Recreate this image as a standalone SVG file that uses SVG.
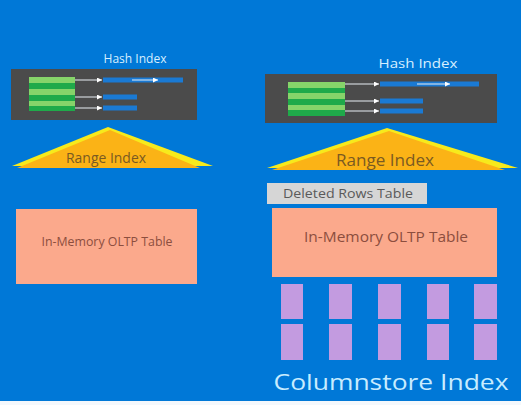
<svg xmlns="http://www.w3.org/2000/svg" width="521" height="405" viewBox="0 0 521 405">
<defs>
<marker id="ah" viewBox="0 0 6 6" refX="6" refY="3" markerWidth="5" markerHeight="5" orient="auto" markerUnits="userSpaceOnUse"><path d="M0,0 L6,3 L0,6 z" fill="#ffffff"/></marker>
<style>
text{font-family:"Open Sans","Noto Sans","Liberation Sans",sans-serif;text-anchor:middle}
.hbox{fill:#4b4b4b}
.lg{fill:#86d46a}
.dg{fill:#1faa4a}
.bar{fill:#1a7ad4}
.arr{stroke:#e8eef4;stroke-width:1;fill:none;marker-end:url(#ah)}
.hash{fill:#d6efff}
.tri1{fill:#f7ea1c}
.tri2{fill:#fbb316}
.range{fill:#7a5a22}
.oltp{fill:#fba98c}
.oltpt{fill:#8c4e3e}
.col{fill:#c39be0}
</style>
</defs>
<rect x="0" y="0" width="521" height="405" fill="#0078d7"/>
<rect x="0" y="401" width="521" height="4" fill="#f4f8fc"/>

<g id="hash-left">
<text class="hash" x="135" y="63" font-size="12" textLength="63" lengthAdjust="spacingAndGlyphs">Hash Index</text>
<rect class="hbox" x="11" y="69" width="186" height="51"/>
<rect class="lg" x="29" y="77" width="46" height="6"/>
<rect class="dg" x="29" y="83" width="46" height="6"/>
<rect class="lg" x="29" y="89" width="46" height="6"/>
<rect class="dg" x="29" y="95" width="46" height="6"/>
<rect class="lg" x="29" y="101" width="46" height="5"/>
<rect class="dg" x="29" y="106" width="46" height="5"/>
<rect class="bar" x="103" y="77.5" width="80" height="5"/>
<rect class="bar" x="103" y="94.5" width="34" height="5"/>
<rect class="bar" x="103" y="105.5" width="34" height="5"/>
</g>

<g id="range-left">
<polygon class="tri1" points="108,127 12,166 213,166"/>
<polygon class="tri2" points="110,130 17,168 200,168"/>
<text class="range" x="106" y="163" font-size="14" textLength="80" lengthAdjust="spacingAndGlyphs">Range Index</text>
</g>

<g id="oltp-left">
<rect class="oltp" x="16" y="209" width="181" height="75"/>
<text class="oltpt" x="107" y="246" font-size="12.5" textLength="131" lengthAdjust="spacingAndGlyphs">In-Memory OLTP Table</text>
</g>

<g id="hash-right">
<text class="hash" x="418" y="68" font-size="13.5" textLength="79" lengthAdjust="spacingAndGlyphs">Hash Index</text>
<rect class="hbox" x="265" y="74" width="232" height="49"/>
<rect class="lg" x="288" y="82" width="57" height="6"/>
<rect class="dg" x="288" y="88" width="57" height="5"/>
<rect class="lg" x="288" y="93" width="57" height="6"/>
<rect class="dg" x="288" y="99" width="57" height="6"/>
<rect class="lg" x="288" y="105" width="57" height="5"/>
<rect class="dg" x="288" y="110" width="57" height="6"/>
<rect class="bar" x="380" y="81.5" width="99" height="5"/>
<rect class="bar" x="380" y="98.5" width="43" height="5"/>
<rect class="bar" x="380" y="108.5" width="43" height="5"/>
</g>

<g id="range-right">
<polygon class="tri1" points="387,128 267,168 518,168"/>
<polygon class="tri2" points="389,131 272,170 505,170"/>
<text class="range" x="385" y="166" font-size="16" textLength="98" lengthAdjust="spacingAndGlyphs">Range Index</text>
</g>

<g id="deleted-rows">
<rect x="267" y="183" width="160" height="21" fill="#d6d6d6"/>
<text x="348" y="198" font-size="12.5" fill="#5a5a5a" textLength="130" lengthAdjust="spacingAndGlyphs">Deleted Rows Table</text>
</g>

<g id="oltp-right">
<rect class="oltp" x="272" y="208" width="225" height="69"/>
<text class="oltpt" x="386" y="242" font-size="14.5" textLength="164" lengthAdjust="spacingAndGlyphs">In-Memory OLTP Table</text>
</g>

<g id="columnstore">
<rect class="col" x="281" y="284" width="22" height="35"/>
<rect class="col" x="329" y="284" width="23" height="35"/>
<rect class="col" x="378" y="284" width="23" height="35"/>
<rect class="col" x="427" y="284" width="22" height="35"/>
<rect class="col" x="474" y="284" width="23" height="35"/>
<rect class="col" x="281" y="324" width="22" height="36"/>
<rect class="col" x="329" y="324" width="23" height="36"/>
<rect class="col" x="378" y="324" width="23" height="36"/>
<rect class="col" x="427" y="324" width="22" height="36"/>
<rect class="col" x="474" y="324" width="23" height="36"/>
<text x="391" y="390" font-size="21" fill="#c8ecff" textLength="235" lengthAdjust="spacingAndGlyphs">Columnstore Index</text>
</g>

<g id="connectors">
<line class="arr" x1="75" y1="80" x2="102" y2="80"/>
<line class="arr" x1="75" y1="97" x2="102" y2="97"/>
<line class="arr" x1="75" y1="108" x2="102" y2="108"/>
<line class="arr" x1="132" y1="80" x2="158" y2="80"/>
<line class="arr" x1="345" y1="84" x2="379" y2="84"/>
<line class="arr" x1="345" y1="101" x2="379" y2="101"/>
<line class="arr" x1="345" y1="111" x2="379" y2="111"/>
<line class="arr" x1="417" y1="84" x2="450" y2="84"/>
</g>
</svg>
